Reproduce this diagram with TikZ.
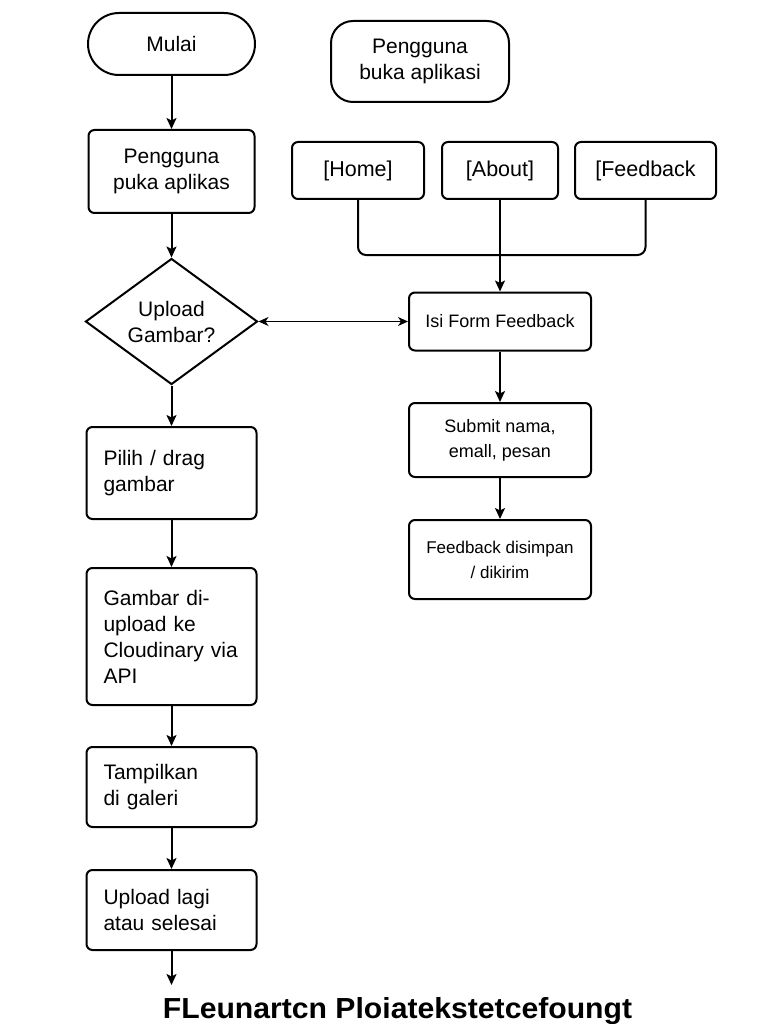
\documentclass[tikz,border=0pt]{standalone}
\usepackage{fontspec}
\setmainfont{Liberation Sans}
\usetikzlibrary{shapes.geometric,arrows.meta}
\newcommand\fA{\fontsize{21pt}{26pt}\selectfont}
\newcommand\fB{\fontsize{18pt}{25pt}\selectfont}
\newcommand\fC{\fontsize{21.5pt}{26pt}\selectfont}
\tikzset{
  box/.style={draw, line width=2pt, rounded corners=6pt, inner sep=0pt},
  lbox/.style={box, minimum width=170pt, text width=136pt, inner xsep=17pt, align=left, font=\fA},
  rbox/.style={box, minimum width=182pt, align=center, font=\fB},
  nav/.style={box, minimum height=57pt, align=center, font=\fC},
  conn/.style={line width=2pt},
  arr/.style={line width=2pt, -{Stealth[length=11pt,width=10pt,inset=2.5pt]}},
  darr/.style={line width=1.3pt, {Stealth[length=10pt,width=9pt,inset=3pt]}-{Stealth[length=10pt,width=9pt,inset=3pt]}}
}
\begin{document}
\begin{tikzpicture}[x=1pt,y=-1pt]
\useasboundingbox[fill=white] (0,0) rectangle (768,1024);
% left column
\node[box, rounded corners=31pt, minimum width=167pt, minimum height=62pt, font=\fA] (mulai) at (171.5,44) {Mulai};
\node[box, minimum width=166pt, minimum height=83pt, align=center, font=\fA] (peng) at (171.5,171.5) {Pengguna\\puka aplikas};
\node[draw, line width=2pt, diamond, aspect=1.37, inner sep=0pt, minimum width=172pt, minimum height=126pt, align=center, font=\fA] (dec) at (171.5,321.5) {Upload\\Gambar?};
\node[lbox, minimum height=92pt] (pilih) at (171.5,473) {Pilih / drag\\gambar};
\node[lbox, minimum height=137pt] (gamb) at (171.5,636.5) {Gambar di-\\upload ke\\Cloudinary via\\API};
\node[lbox, minimum height=80pt] (tamp) at (171.5,787) {Tampilkan\\di galeri};
\node[lbox, minimum height=80pt] (upl) at (171.5,910) {Upload lagi\\atau selesai};
\coordinate (endp) at (171.5,985);
% right column
\node[box, rounded corners=22pt, minimum width=178pt, minimum height=81pt, align=center, font=\fA] (peng2) at (420,61.5) {Pengguna\\buka aplikasi};
\node[nav, minimum width=132pt] (home) at (358,170.5) {[Home]};
\node[nav, minimum width=116pt] (about) at (500,170.5) {[About]};
\node[nav, minimum width=141pt] (feed) at (645.5,170.5) {[Feedback};
\node[rbox, minimum height=58pt] (isi) at (500,321.5) {Isi Form Feedback};
\node[rbox, minimum height=74pt] (sub) at (500,440) {Submit nama,\\emall, pesan};
\node[rbox, minimum height=79pt, font=\fontsize{17pt}{25pt}\selectfont] (fds) at (500,559.5) {Feedback disimpan\\/ dikirim};
% connectors left
\draw[arr] (mulai) -- (peng);
\draw[arr] (peng) -- (dec);
\draw[arr] (dec) -- (pilih);
\draw[arr] (pilih) -- (gamb);
\draw[arr] (gamb) -- (tamp);
\draw[arr] (tamp) -- (upl);
\draw[arr] (upl) -- (endp);
% connectors right
\draw[conn, rounded corners=8pt] (home.south) -- (home.south |- 0,255) -- (feed.south |- 0,255) -- (feed.south);
\draw[arr] (about) -- (isi);
\draw[arr] (isi) -- (sub);
\draw[arr] (sub) -- (fds);
\draw[darr] (dec.east) -- (isi.west);
% title
\node[anchor=base, font=\fontsize{29pt}{32pt}\selectfont\bfseries] (title) at (397.5,1018) {\scalebox{1.04}[1]{FLeunartcn Ploiatekstetcefoungt}};
\end{tikzpicture}
\end{document}
